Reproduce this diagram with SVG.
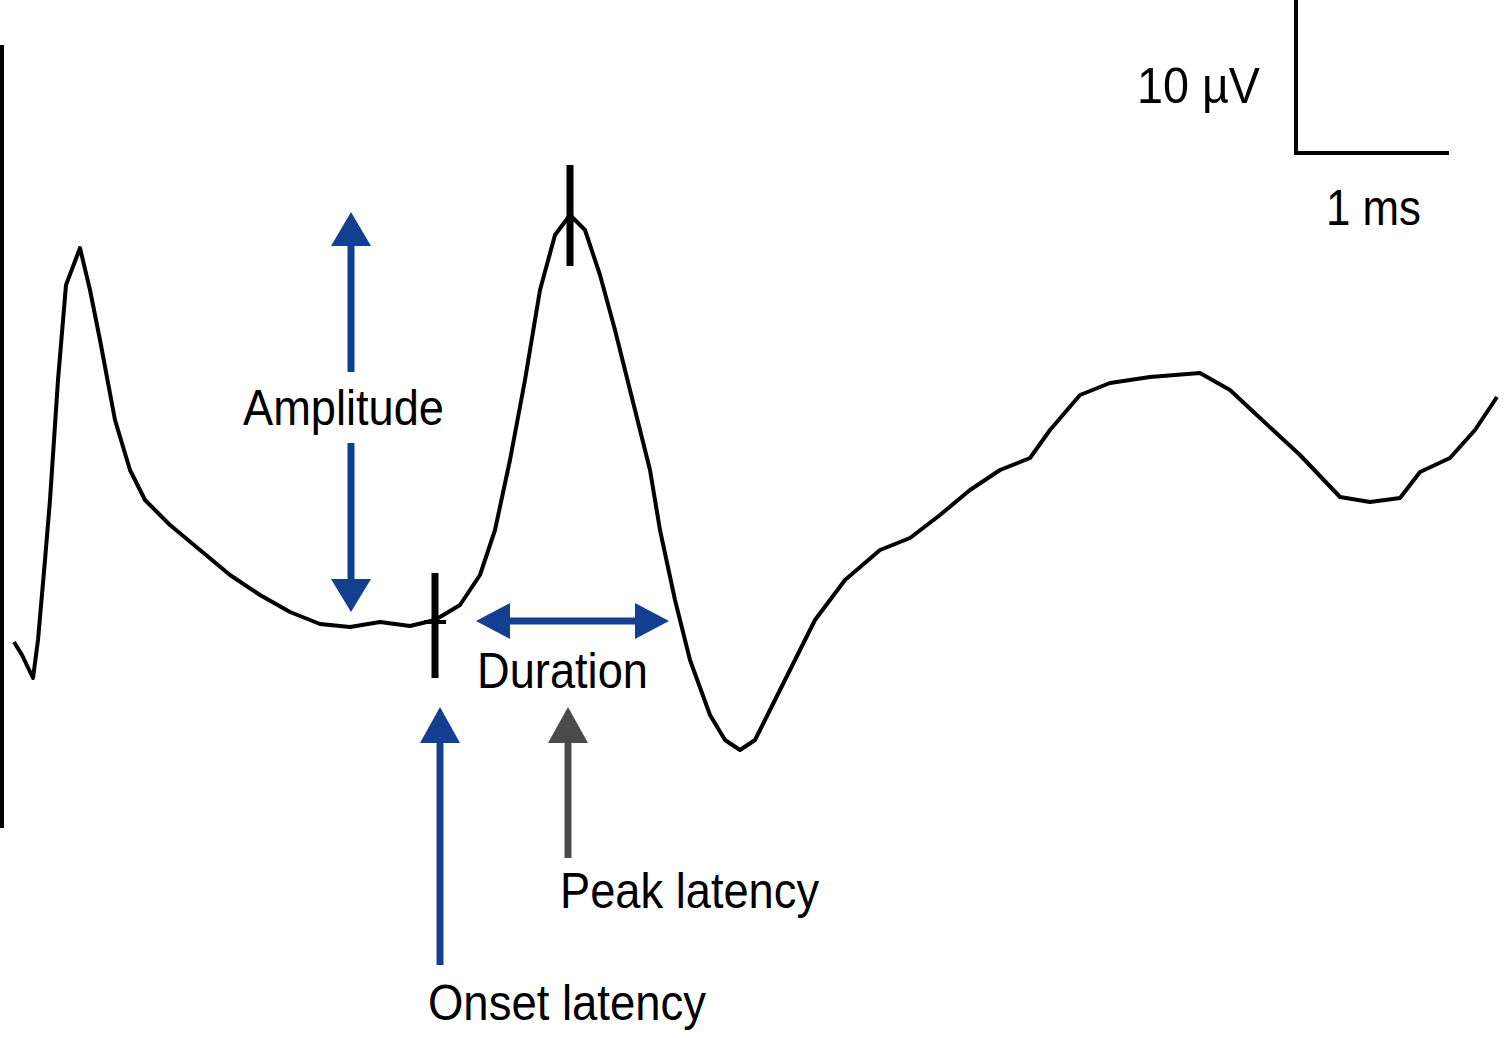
<svg xmlns="http://www.w3.org/2000/svg" width="1506" height="1038" viewBox="0 0 1506 1038">
<style>
text{font-family:"Liberation Sans",Arial,sans-serif;font-size:50px;fill:#000}
.blue{stroke:#123f8f;stroke-width:7;fill:none}
.bh{fill:#123f8f}
.gray{stroke:#4a4a4a;stroke-width:7;fill:none}
</style>
<rect width="1506" height="1038" fill="#fff"/>
<g id="axes" stroke="#000" stroke-width="4" fill="none">
<line x1="2" y1="45" x2="2" y2="828"/>
<polyline points="1296,0 1296,153 1449,153"/>
</g>
<path id="trace" fill="none" stroke="#000" stroke-width="4" stroke-linejoin="round" d="M14,642 L22,655 L33,678 L38,640 L45,560 L50,500 L58,380 L66,285 L80,248 L90,290 L100,340 L115,420 L130,470 L145,500 L170,525 L200,550 L230,575 L260,595 L290,612 L320,624 L350,627 L380,622 L410,626 L435,620 L460,605 L480,575 L495,530 L510,460 L525,380 L540,290 L555,235 L570,215 L585,230 L600,275 L615,330 L630,390 L650,470 L660,530 L675,600 L690,660 L710,715 L725,740 L740,750 L755,740 L770,710 L790,670 L815,620 L845,580 L880,550 L910,538 L940,515 L970,490 L1000,470 L1030,458 L1050,430 L1080,395 L1110,383 L1150,377 L1200,373 L1230,390 L1260,418 L1300,455 L1340,497 L1370,502 L1400,498 L1420,472 L1450,458 L1475,430 L1497,397"/>
<g id="ticks" stroke="#000" stroke-width="7">
<line x1="570" y1="165" x2="570" y2="266"/>
<line x1="435" y1="573" x2="435" y2="678"/>
<line x1="424" y1="622" x2="446" y2="622" stroke-width="4"/>
</g>
<g id="connectors">
<line class="blue" x1="351" y1="243" x2="351" y2="372"/>
<polygon class="bh" points="351,212 331,246 371,246"/>
<line class="blue" x1="351" y1="443" x2="351" y2="582"/>
<polygon class="bh" points="351,612 331,579 371,579"/>
<line class="blue" x1="505" y1="621" x2="640" y2="621"/>
<polygon class="bh" points="476,621 510,603 510,639"/>
<polygon class="bh" points="669,621 635,603 635,639"/>
<line class="blue" x1="440" y1="740" x2="440" y2="965"/>
<polygon class="bh" points="440,707 420,743 460,743"/>
<line class="gray" x1="568" y1="740" x2="568" y2="858"/>
<polygon fill="#4a4a4a" points="568,707 548,743 588,743"/>
</g>
<g id="labels">
<text x="1137" y="103" textLength="123" lengthAdjust="spacingAndGlyphs">10 µV</text>
<text x="1326" y="225" textLength="95" lengthAdjust="spacingAndGlyphs">1 ms</text>
<text x="243" y="425" textLength="201" lengthAdjust="spacingAndGlyphs">Amplitude</text>
<text x="477" y="688" textLength="171" lengthAdjust="spacingAndGlyphs">Duration</text>
<text x="560" y="908" textLength="259" lengthAdjust="spacingAndGlyphs">Peak latency</text>
<text x="428" y="1020" textLength="278" lengthAdjust="spacingAndGlyphs">Onset latency</text>
</g>
</svg>
